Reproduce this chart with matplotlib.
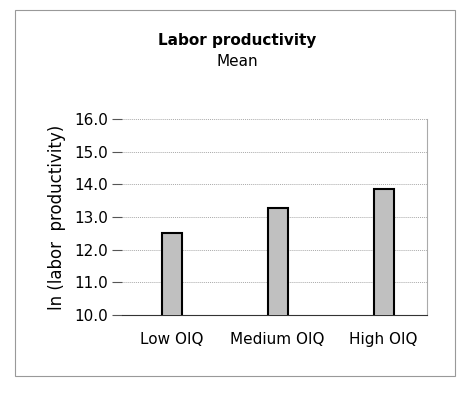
import matplotlib
matplotlib.use("Agg")
import matplotlib.pyplot as plt
from matplotlib.patches import Rectangle

categories = ["Low OIQ", "Medium OIQ", "High OIQ"]
values = [12.52, 13.28, 13.86]
yticks = [10.0, 11.0, 12.0, 13.0, 14.0, 15.0, 16.0]

fig = plt.figure(figsize=(4.74, 4.01), dpi=100)
fig.patches.append(Rectangle((15/474, 1-376/401), 440/474, 366/401, transform=fig.transFigure,
                             fill=False, edgecolor="#999999", linewidth=0.8))
ax = fig.add_axes([122/474, 1-315/401, 305/474, 196/401])
x = list(range(len(categories)))
ax.bar(x, values, width=0.19, bottom=0, color="#c0c0c0", edgecolor="black", linewidth=1.5, zorder=3)
ax.set_xlim(-0.47, 2.41)
ax.set_ylim(10, 16)
ax.set_yticks(yticks)
ax.set_yticklabels([f"{t:.1f}" for t in yticks], fontsize=11)
ax.set_xticks(x)
ax.set_xticklabels(categories, fontsize=11)
ax.tick_params(axis="x", length=0, pad=12)
ax.tick_params(axis="y", length=7, direction="out", pad=3, color="#555555")
ax.yaxis.grid(True, linestyle=(0, (1, 1)), color="#aaaaaa", linewidth=0.7, zorder=0)
ax.spines["top"].set_visible(False)
ax.spines["left"].set_visible(False)
ax.spines["right"].set_linestyle((0, (1, 1)))
ax.spines["right"].set_color("#aaaaaa")
ax.spines["bottom"].set_color("#333333")
ax.set_ylabel("ln (labor  productivity)", fontsize=12, labelpad=6)
fig.text(0.5, 1-40/401, "Labor productivity", ha="center", va="center", fontsize=11, fontweight="bold")
fig.text(0.5, 1-62/401, "Mean", ha="center", va="center", fontsize=11)
fig.savefig("out.png", dpi=100)
